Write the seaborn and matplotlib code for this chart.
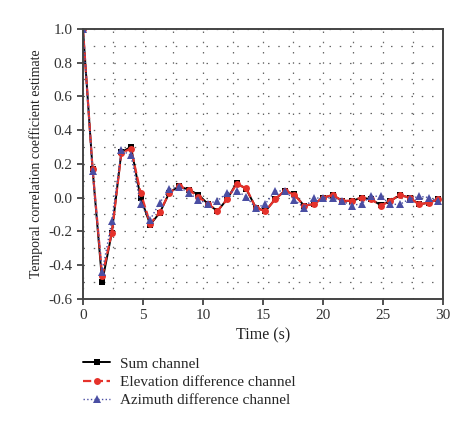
import matplotlib
matplotlib.use("Agg")
import matplotlib.pyplot as plt
import numpy as np
import pandas as pd
import seaborn as sns

# time samples (s), every 0.8 s
time_s = [round(0.8 * k, 1) for k in range(38)]

sum_channel = [1.0, 0.17, -0.50, -0.21, 0.27, 0.30, 0.0, -0.16, -0.09, 0.03,
               0.067, 0.047, 0.018, -0.037, -0.08, -0.01, 0.087, 0.05, -0.06, -0.08,
               -0.01, 0.04, 0.02, -0.047, -0.04, 0.0, 0.015, -0.02, -0.02, 0.0,
               -0.01, -0.045, -0.02, 0.015, 0.0, -0.04, -0.03, -0.01]
elev_channel = [1.0, 0.17, -0.465, -0.21, 0.265, 0.29, 0.03, -0.155, -0.087, 0.03,
                0.067, 0.047, 0.005, -0.037, -0.08, -0.01, 0.08, 0.055, -0.062, -0.08,
                -0.01, 0.04, 0.017, -0.047, -0.04, 0.0, 0.015, -0.02, -0.018, 0.0,
                -0.01, -0.047, -0.02, 0.017, -0.002, -0.04, -0.03, -0.01]
azim_channel = [1.0, 0.155, -0.44, -0.14, 0.28, 0.25, -0.04, -0.13, -0.03, 0.05,
                0.065, 0.027, -0.012, -0.037, -0.018, 0.027, 0.04, 0.005, -0.064, -0.036,
                0.038, 0.04, -0.012, -0.06, -0.005, 0.0, -0.002, -0.02, -0.047, -0.036,
                0.008, 0.008, -0.04, -0.04, -0.008, 0.008, 0.0, -0.02]

sns.set_style("ticks")
plt.rcParams['font.family'] = ['Liberation Serif', 'DejaVu Serif']

fig = plt.figure(figsize=(4.74, 4.30), dpi=100)
ax = fig.add_axes([0.175, 0.305, 0.76, 0.628])

df = pd.DataFrame({"t": time_s, "Sum channel": sum_channel,
                   "Elevation difference channel": elev_channel,
                   "Azimuth difference channel": azim_channel})

sns.lineplot(data=df, x="t", y="Sum channel", ax=ax, color='black', lw=1.4,
             marker='s', markersize=4.5, markeredgewidth=0, label='Sum channel')
sns.lineplot(data=df, x="t", y="Elevation difference channel", ax=ax, color='#e5322b',
             lw=1.6, linestyle='--', marker='o', markersize=5, markeredgewidth=0,
             label='Elevation difference channel')
sns.lineplot(data=df, x="t", y="Azimuth difference channel", ax=ax, color='#4a4ea3',
             lw=1.0, linestyle=':', marker='^', markersize=5.5, markeredgewidth=0,
             label='Azimuth difference channel')

ax.set_xlim(0, 30)
ax.set_ylim(-0.6, 1.0)
ax.set_xticks(np.arange(0, 31, 5))
ax.set_yticks(np.arange(-0.6, 1.01, 0.2))
ax.set_yticklabels([f"{v:.1f}" for v in np.arange(-0.6, 1.01, 0.2)])
ax.set_xticks(np.arange(0, 30.1, 2.5), minor=True)
ax.set_yticks(np.arange(-0.6, 1.01, 0.1), minor=True)
ax.grid(True, which='both', linestyle=(0, (1.2, 7)), color='#666666', lw=0.9)
ax.set_axisbelow(True)
ax.tick_params(which='minor', length=0)
ax.tick_params(which='major', direction='out', length=4, width=1.2, labelsize=11, colors='#333333')
for sp in ax.spines.values():
    sp.set_color('#444444')
    sp.set_linewidth(1.4)

ax.set_xlabel("Time (s)", fontsize=11.5, color='#222222')
ax.set_ylabel("Temporal correlation coefficient estimate", fontsize=10, color='#222222')

ax.legend(loc='upper left', bbox_to_anchor=(0.0, -0.215), frameon=False,
          fontsize=11, handlelength=1.8, handletextpad=0.6, labelspacing=0.3,
          borderaxespad=0, borderpad=0)

fig.savefig("out.png", dpi=100)
